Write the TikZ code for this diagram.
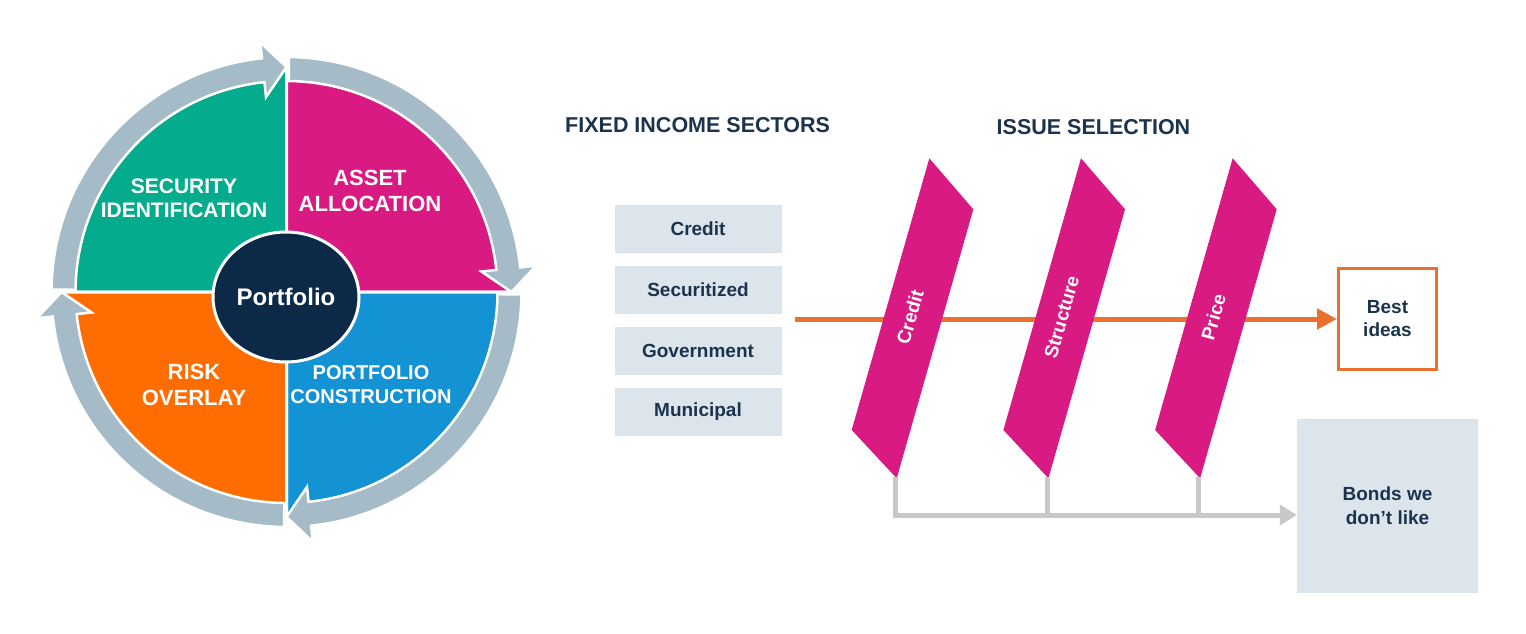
\documentclass[tikz,border=0pt]{standalone}
\usepackage{fontspec}
\setmainfont{Liberation Sans}
\usetikzlibrary{arrows.meta,calc,shapes.geometric}
\definecolor{qgreen}{RGB}{4,171,140}
\definecolor{qmag}{RGB}{217,26,130}
\definecolor{qorange}{RGB}{255,108,0}
\definecolor{qblue}{RGB}{19,147,211}
\definecolor{qnavy}{RGB}{12,42,72}
\definecolor{ringgrey}{RGB}{165,187,199}
\definecolor{txtnavy}{RGB}{27,51,77}
\definecolor{boxfill}{RGB}{220,229,236}
\definecolor{lineorange}{RGB}{234,112,48}
\definecolor{linegrey}{RGB}{200,200,200}
\tikzset{
  quad/.style={draw=white, line width=3, line join=miter},
  ringarrow/.style={fill=ringgrey, draw=white, line width=2.5, line join=miter},
  quadtext/.style={text=white, align=center, inner sep=0, font=\bfseries},
  heading/.style={text=txtnavy, inner sep=0, font=\bfseries\fontsize{21.5}{24}\selectfont},
  sectorbox/.style={fill=boxfill, minimum width=167, minimum height=48, inner sep=0, text=txtnavy, font=\bfseries\fontsize{19}{23}\selectfont},
  slant/.style={fill=qmag},
  slantlabel/.style={text=white, rotate=74, inner sep=0, font=\bfseries\fontsize{19}{23}\selectfont},
  orangearrow/.style={draw=lineorange, line width=5, -{Triangle[length=20,width=20]}},
  greyline/.style={draw=linegrey, line width=5},
  greyarrow/.style={draw=linegrey, line width=5, -{Triangle[length=17,width=20]}},
}
\begin{document}
\begin{tikzpicture}[x=1pt,y=1pt]
\useasboundingbox (0,0) rectangle (1526,633);

% ---------- cycle ----------
\begin{scope}[shift={(286.5,341)}]
  \filldraw[quad, fill=qgreen]  (0,0) -- (180:222) arc[start angle=180, end angle=90, radius=222] -- cycle;
  \filldraw[quad, fill=qmag]    (0,0) -- (90:222) arc[start angle=90, end angle=0, radius=222] -- cycle;
  \filldraw[quad, fill=qblue]   (0,0) -- (0:222) arc[start angle=0, end angle=-90, radius=222] -- cycle;
  \filldraw[quad, fill=qorange] (0,0) -- (-90:222) arc[start angle=-90, end angle=-180, radius=222] -- cycle;
  \foreach \a in {180,90,0,-90} {
    \filldraw[ringarrow]
      (\a-0.6:235) arc[start angle=\a-0.6, end angle=\a-84, radius=235]
      -- (\a-84:251) -- (\a-90:225) -- (\a-84:196) -- (\a-84:211)
      arc[start angle=\a-84, end angle=\a-0.6, radius=211] -- cycle;
  }
\end{scope}

\node[ellipse, fill=qnavy, draw=white, line width=3, minimum width=146, minimum height=130, inner sep=0,
      text=white, font=\bfseries\fontsize{24}{28}\selectfont] (portfolio) at (286,336) {Portfolio};

\node[quadtext, font=\bfseries\fontsize{21}{24}\selectfont] (secid) at (184,435) {SECURITY\\IDENTIFICATION};
\node[quadtext, font=\bfseries\fontsize{22}{26}\selectfont] (asset) at (370,442) {ASSET\\ALLOCATION};
\node[quadtext, font=\bfseries\fontsize{22}{26}\selectfont] (risk) at (194,248) {RISK\\OVERLAY};
\node[quadtext, font=\bfseries\fontsize{20}{24}\selectfont] (pcons) at (371,248) {PORTFOLIO\\CONSTRUCTION};

% ---------- headings ----------
\node[heading, anchor=west] (fis) at (565,508) {FIXED INCOME SECTORS};
\node[heading] (iss) at (1093.5,506) {ISSUE SELECTION};

% ---------- sector boxes ----------
\node[sectorbox] (credit) at (698,404) {Credit};
\node[sectorbox] (secur)  at (698,343) {Securitized};
\node[sectorbox] (gov)    at (698,282) {Government};
\node[sectorbox] (muni)   at (698,221) {Municipal};

% ---------- outcome boxes ----------
\node[draw=lineorange, line width=3, fill=white, minimum width=98, minimum height=101, inner sep=0,
      align=center, text=txtnavy, font=\bfseries\fontsize{19}{23}\selectfont] (best) at (1387.5,314) {Best\\ideas};
\node[fill=boxfill, minimum width=181, minimum height=174, inner sep=0,
      align=center, text=txtnavy, font=\bfseries\fontsize{19}{24}\selectfont] (bonds) at (1387.5,127) {Bonds we\\don’t like};

% ---------- orange flow ----------
\coordinate (ostart) at (795,314);
\draw[orangearrow] (ostart) -- (best.west);

% ---------- slanted filters ----------
\foreach \dx/\lab [count=\i] in {0/Credit,151.7/Structure,303.4/Price} {
  \coordinate (t\i) at (929.3+\dx,474.7);
  \coordinate (r\i) at (973.3+\dx,423.7);
  \coordinate (b\i) at (896.7+\dx,154.7);
  \coordinate (l\i) at (851.7+\dx,203);
  \fill[slant] (t\i) -- (r\i) -- (b\i) -- (l\i) -- cycle;
  \node[slantlabel] (lab\i) at (910+\dx,316) {\lab};
  \coordinate (c\i) at (895.5+\dx,156);
}

% ---------- grey rejects ----------
\coordinate (h) at (0,118);
\draw[greyline] (c2) -- (c2 |- h);
\draw[greyline] (c3) -- (c3 |- h);
\draw[greyarrow] (c1) |- (h -| bonds.west);

\end{tikzpicture}
\end{document}
